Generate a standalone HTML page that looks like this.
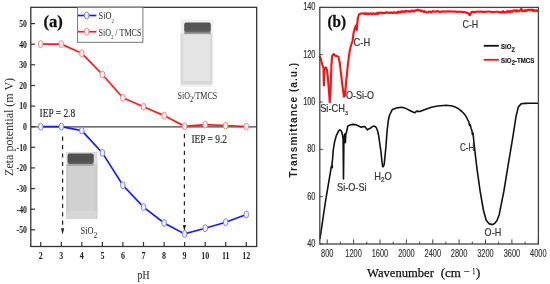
<!DOCTYPE html>
<html><head><meta charset="utf-8"><title>Zeta potential and FTIR</title>
<style>html,body{margin:0;padding:0;background:#fff;} svg{display:block;}</style></head>
<body><svg width="550" height="284" viewBox="0 0 550 284">
<rect width="550" height="284" fill="#fff"/>
<defs><linearGradient id="g1" x1="0" x2="1" y1="0" y2="0"><stop offset="0" stop-color="#d4d4d4"/><stop offset="0.12" stop-color="#e5e5e5"/><stop offset="0.88" stop-color="#e5e5e5"/><stop offset="1" stop-color="#d4d4d4"/></linearGradient></defs>
<rect x="180.6" y="19.5" width="32.599999999999994" height="67.5" fill="#f0f0f0"/>
<rect x="180.6" y="33.0" width="31.599999999999994" height="51.599999999999994" rx="1.5" fill="url(#g1)"/>
<rect x="181.5" y="81.0" width="30.0" height="3.5999999999999943" rx="1.5" fill="#d8d8d8"/>
<rect x="184.2" y="32.0" width="26.600000000000023" height="2.200000000000003" fill="#9c9c9c"/>
<defs><linearGradient id="g1c" x1="0" x2="0" y1="0" y2="1"><stop offset="0" stop-color="#555555"/><stop offset="0.7" stop-color="#555555"/><stop offset="1" stop-color="#6c6c6c"/></linearGradient></defs>
<rect x="184.2" y="22.4" width="26.600000000000023" height="10.0" rx="2" fill="url(#g1c)"/>
<defs><linearGradient id="g2" x1="0" x2="1" y1="0" y2="0"><stop offset="0" stop-color="#c8c8c8"/><stop offset="0.12" stop-color="#d1d1d1"/><stop offset="0.88" stop-color="#d1d1d1"/><stop offset="1" stop-color="#c8c8c8"/></linearGradient></defs>
<rect x="66.3" y="151.9" width="31.200000000000003" height="67.1" fill="#dadada"/>
<rect x="66.3" y="163.5" width="31.0" height="55.30000000000001" rx="1.5" fill="url(#g2)"/>
<rect x="67.0" y="211.0" width="29.799999999999997" height="7.800000000000011" rx="1.5" fill="#d7d7d7"/>
<rect x="67.6" y="163.6" width="26.10000000000001" height="2.200000000000017" fill="#a4a4a4"/>
<defs><linearGradient id="g2c" x1="0" x2="0" y1="0" y2="1"><stop offset="0" stop-color="#505050"/><stop offset="0.7" stop-color="#505050"/><stop offset="1" stop-color="#646464"/></linearGradient></defs>
<rect x="67.6" y="153.4" width="26.10000000000001" height="10.699999999999989" rx="2" fill="url(#g2c)"/>
<line x1="30.8" y1="126.8" x2="256.7" y2="126.8" stroke="#444" stroke-width="1.3"/>
<line x1="62.6" y1="136.6" x2="62.6" y2="228.8" stroke="#222" stroke-width="1.2" stroke-dasharray="4.2,4.2"/>
<path d="M61.0,228.3 L64.2,228.3 L62.6,234.8 Z" fill="#222"/>
<line x1="184.4" y1="134.0" x2="184.4" y2="225.5" stroke="#222" stroke-width="1.2" stroke-dasharray="4.2,4.2"/>
<path d="M182.8,225.0 L186.0,225.0 L184.4,231.5 Z" fill="#222"/>
<polyline points="40.7,44.2 61.3,44.2 81.8,53.3 102.4,74.5 122.9,97.8 143.5,106.7 164.1,115.6 184.6,126.3 205.2,124.6 225.7,125.5 246.3,126.5" fill="none" stroke="#ff1a1a" stroke-width="1.7"/>
<polyline points="40.7,126.7 61.3,126.7 81.8,130.6 102.4,152.9 122.9,185.3 143.5,207.1 164.1,223.0 184.6,233.9 205.2,228.2 225.7,222.2 246.3,214.5" fill="none" stroke="#1a1aff" stroke-width="1.7"/>
<ellipse cx="40.7" cy="44.2" rx="2.3" ry="3.5" fill="#fff4f4" stroke="#ff7a7a" stroke-width="0.95"/>
<ellipse cx="61.3" cy="44.2" rx="2.3" ry="3.5" fill="#fff4f4" stroke="#ff7a7a" stroke-width="0.95"/>
<ellipse cx="81.8" cy="53.3" rx="2.3" ry="3.5" fill="#fff4f4" stroke="#ff7a7a" stroke-width="0.95"/>
<ellipse cx="102.4" cy="74.5" rx="2.3" ry="3.5" fill="#fff4f4" stroke="#ff7a7a" stroke-width="0.95"/>
<ellipse cx="122.9" cy="97.8" rx="2.3" ry="3.5" fill="#fff4f4" stroke="#ff7a7a" stroke-width="0.95"/>
<ellipse cx="143.5" cy="106.7" rx="2.3" ry="3.5" fill="#fff4f4" stroke="#ff7a7a" stroke-width="0.95"/>
<ellipse cx="164.1" cy="115.6" rx="2.3" ry="3.5" fill="#fff4f4" stroke="#ff7a7a" stroke-width="0.95"/>
<ellipse cx="184.6" cy="126.3" rx="2.3" ry="3.5" fill="#fff4f4" stroke="#ff7a7a" stroke-width="0.95"/>
<ellipse cx="205.2" cy="124.6" rx="2.3" ry="3.5" fill="#fff4f4" stroke="#ff7a7a" stroke-width="0.95"/>
<ellipse cx="225.7" cy="125.5" rx="2.3" ry="3.5" fill="#fff4f4" stroke="#ff7a7a" stroke-width="0.95"/>
<ellipse cx="246.3" cy="126.5" rx="2.3" ry="3.5" fill="#fff4f4" stroke="#ff7a7a" stroke-width="0.95"/>
<ellipse cx="40.7" cy="126.7" rx="2.3" ry="3.5" fill="#f2f2ff" stroke="#7a7aff" stroke-width="0.95"/>
<ellipse cx="61.3" cy="126.7" rx="2.3" ry="3.5" fill="#f2f2ff" stroke="#7a7aff" stroke-width="0.95"/>
<ellipse cx="81.8" cy="130.6" rx="2.3" ry="3.5" fill="#f2f2ff" stroke="#7a7aff" stroke-width="0.95"/>
<ellipse cx="102.4" cy="152.9" rx="2.3" ry="3.5" fill="#f2f2ff" stroke="#7a7aff" stroke-width="0.95"/>
<ellipse cx="122.9" cy="185.3" rx="2.3" ry="3.5" fill="#f2f2ff" stroke="#7a7aff" stroke-width="0.95"/>
<ellipse cx="143.5" cy="207.1" rx="2.3" ry="3.5" fill="#f2f2ff" stroke="#7a7aff" stroke-width="0.95"/>
<ellipse cx="164.1" cy="223.0" rx="2.3" ry="3.5" fill="#f2f2ff" stroke="#7a7aff" stroke-width="0.95"/>
<ellipse cx="184.6" cy="233.9" rx="2.3" ry="3.5" fill="#f2f2ff" stroke="#7a7aff" stroke-width="0.95"/>
<ellipse cx="205.2" cy="228.2" rx="2.3" ry="3.5" fill="#f2f2ff" stroke="#7a7aff" stroke-width="0.95"/>
<ellipse cx="225.7" cy="222.2" rx="2.3" ry="3.5" fill="#f2f2ff" stroke="#7a7aff" stroke-width="0.95"/>
<ellipse cx="246.3" cy="214.5" rx="2.3" ry="3.5" fill="#f2f2ff" stroke="#7a7aff" stroke-width="0.95"/>
<rect x="30.8" y="7.3" width="225.89999999999998" height="239.2" fill="none" stroke="#333" stroke-width="1.3"/>
<line x1="30.8" y1="229.8" x2="35.1" y2="229.8" stroke="#333" stroke-width="1.2"/>
<text x="27" y="233.2" font-size="10" font-family="'Liberation Serif', serif" font-weight="bold" fill="#222" text-anchor="end" transform="translate(27 0) scale(0.78 1) translate(-27 0)">-50</text>
<line x1="30.8" y1="209.2" x2="35.1" y2="209.2" stroke="#333" stroke-width="1.2"/>
<text x="27" y="212.6" font-size="10" font-family="'Liberation Serif', serif" font-weight="bold" fill="#222" text-anchor="end" transform="translate(27 0) scale(0.78 1) translate(-27 0)">-40</text>
<line x1="30.8" y1="188.6" x2="35.1" y2="188.6" stroke="#333" stroke-width="1.2"/>
<text x="27" y="192.0" font-size="10" font-family="'Liberation Serif', serif" font-weight="bold" fill="#222" text-anchor="end" transform="translate(27 0) scale(0.78 1) translate(-27 0)">-30</text>
<line x1="30.8" y1="167.9" x2="35.1" y2="167.9" stroke="#333" stroke-width="1.2"/>
<text x="27" y="171.3" font-size="10" font-family="'Liberation Serif', serif" font-weight="bold" fill="#222" text-anchor="end" transform="translate(27 0) scale(0.78 1) translate(-27 0)">-20</text>
<line x1="30.8" y1="147.3" x2="35.1" y2="147.3" stroke="#333" stroke-width="1.2"/>
<text x="27" y="150.7" font-size="10" font-family="'Liberation Serif', serif" font-weight="bold" fill="#222" text-anchor="end" transform="translate(27 0) scale(0.78 1) translate(-27 0)">-10</text>
<line x1="30.8" y1="126.7" x2="35.1" y2="126.7" stroke="#333" stroke-width="1.2"/>
<text x="27" y="130.1" font-size="10" font-family="'Liberation Serif', serif" font-weight="bold" fill="#222" text-anchor="end" transform="translate(27 0) scale(0.78 1) translate(-27 0)">0</text>
<line x1="30.8" y1="106.1" x2="35.1" y2="106.1" stroke="#333" stroke-width="1.2"/>
<text x="27" y="109.5" font-size="10" font-family="'Liberation Serif', serif" font-weight="bold" fill="#222" text-anchor="end" transform="translate(27 0) scale(0.78 1) translate(-27 0)">10</text>
<line x1="30.8" y1="85.5" x2="35.1" y2="85.5" stroke="#333" stroke-width="1.2"/>
<text x="27" y="88.9" font-size="10" font-family="'Liberation Serif', serif" font-weight="bold" fill="#222" text-anchor="end" transform="translate(27 0) scale(0.78 1) translate(-27 0)">20</text>
<line x1="30.8" y1="64.8" x2="35.1" y2="64.8" stroke="#333" stroke-width="1.2"/>
<text x="27" y="68.2" font-size="10" font-family="'Liberation Serif', serif" font-weight="bold" fill="#222" text-anchor="end" transform="translate(27 0) scale(0.78 1) translate(-27 0)">30</text>
<line x1="30.8" y1="44.2" x2="35.1" y2="44.2" stroke="#333" stroke-width="1.2"/>
<text x="27" y="47.6" font-size="10" font-family="'Liberation Serif', serif" font-weight="bold" fill="#222" text-anchor="end" transform="translate(27 0) scale(0.78 1) translate(-27 0)">40</text>
<line x1="30.8" y1="23.6" x2="35.1" y2="23.6" stroke="#333" stroke-width="1.2"/>
<text x="27" y="27.0" font-size="10" font-family="'Liberation Serif', serif" font-weight="bold" fill="#222" text-anchor="end" transform="translate(27 0) scale(0.78 1) translate(-27 0)">50</text>
<line x1="40.7" y1="246.5" x2="40.7" y2="242.0" stroke="#333" stroke-width="1.2"/>
<text x="40.7" y="259.3" font-size="10" font-family="'Liberation Serif', serif" font-weight="bold" fill="#222" text-anchor="middle" transform="translate(40.7 0) scale(0.8 1) translate(-40.7 0)">2</text>
<line x1="61.3" y1="246.5" x2="61.3" y2="242.0" stroke="#333" stroke-width="1.2"/>
<text x="61.3" y="259.3" font-size="10" font-family="'Liberation Serif', serif" font-weight="bold" fill="#222" text-anchor="middle" transform="translate(61.3 0) scale(0.8 1) translate(-61.3 0)">3</text>
<line x1="81.8" y1="246.5" x2="81.8" y2="242.0" stroke="#333" stroke-width="1.2"/>
<text x="81.8" y="259.3" font-size="10" font-family="'Liberation Serif', serif" font-weight="bold" fill="#222" text-anchor="middle" transform="translate(81.8 0) scale(0.8 1) translate(-81.8 0)">4</text>
<line x1="102.4" y1="246.5" x2="102.4" y2="242.0" stroke="#333" stroke-width="1.2"/>
<text x="102.4" y="259.3" font-size="10" font-family="'Liberation Serif', serif" font-weight="bold" fill="#222" text-anchor="middle" transform="translate(102.4 0) scale(0.8 1) translate(-102.4 0)">5</text>
<line x1="122.9" y1="246.5" x2="122.9" y2="242.0" stroke="#333" stroke-width="1.2"/>
<text x="122.9" y="259.3" font-size="10" font-family="'Liberation Serif', serif" font-weight="bold" fill="#222" text-anchor="middle" transform="translate(122.9 0) scale(0.8 1) translate(-122.9 0)">6</text>
<line x1="143.5" y1="246.5" x2="143.5" y2="242.0" stroke="#333" stroke-width="1.2"/>
<text x="143.5" y="259.3" font-size="10" font-family="'Liberation Serif', serif" font-weight="bold" fill="#222" text-anchor="middle" transform="translate(143.5 0) scale(0.8 1) translate(-143.5 0)">7</text>
<line x1="164.1" y1="246.5" x2="164.1" y2="242.0" stroke="#333" stroke-width="1.2"/>
<text x="164.1" y="259.3" font-size="10" font-family="'Liberation Serif', serif" font-weight="bold" fill="#222" text-anchor="middle" transform="translate(164.1 0) scale(0.8 1) translate(-164.1 0)">8</text>
<line x1="184.6" y1="246.5" x2="184.6" y2="242.0" stroke="#333" stroke-width="1.2"/>
<text x="184.6" y="259.3" font-size="10" font-family="'Liberation Serif', serif" font-weight="bold" fill="#222" text-anchor="middle" transform="translate(184.6 0) scale(0.8 1) translate(-184.6 0)">9</text>
<line x1="205.2" y1="246.5" x2="205.2" y2="242.0" stroke="#333" stroke-width="1.2"/>
<text x="205.2" y="259.3" font-size="10" font-family="'Liberation Serif', serif" font-weight="bold" fill="#222" text-anchor="middle" transform="translate(205.2 0) scale(0.8 1) translate(-205.2 0)">10</text>
<line x1="225.7" y1="246.5" x2="225.7" y2="242.0" stroke="#333" stroke-width="1.2"/>
<text x="225.7" y="259.3" font-size="10" font-family="'Liberation Serif', serif" font-weight="bold" fill="#222" text-anchor="middle" transform="translate(225.7 0) scale(0.8 1) translate(-225.7 0)">11</text>
<line x1="246.3" y1="246.5" x2="246.3" y2="242.0" stroke="#333" stroke-width="1.2"/>
<text x="246.3" y="259.3" font-size="10" font-family="'Liberation Serif', serif" font-weight="bold" fill="#222" text-anchor="middle" transform="translate(246.3 0) scale(0.8 1) translate(-246.3 0)">12</text>
<rect x="77.6" y="7.3" width="65.3" height="35.0" fill="#fff" stroke="#777" stroke-width="1"/>
<line x1="78" y1="15.5" x2="96.4" y2="15.5" stroke="#1a1aff" stroke-width="1.7"/>
<ellipse cx="86.7" cy="15.5" rx="2.3" ry="3.5" fill="#f2f2ff" stroke="#7a7aff" stroke-width="0.95"/>
<line x1="78" y1="31.7" x2="96.4" y2="31.7" stroke="#ff1a1a" stroke-width="1.7"/>
<ellipse cx="86.7" cy="31.7" rx="2.3" ry="3.5" fill="#fff4f4" stroke="#ff7a7a" stroke-width="0.95"/>
<text x="98.6" y="19.3" font-size="9.9" font-family="'Liberation Serif', serif" fill="#2a2a2a" textLength="15.3" lengthAdjust="spacingAndGlyphs">SiO<tspan font-size="5.6" dy="3.6">2</tspan></text>
<text x="98.6" y="35.6" font-size="10.2" font-family="'Liberation Serif', serif" fill="#2a2a2a" textLength="42.8" lengthAdjust="spacingAndGlyphs">SiO<tspan font-size="5.6" dy="3.6">2</tspan><tspan dy="-3.6"> / TMCS</tspan></text>
<text x="43.4" y="26.8" font-size="17" font-family="'Liberation Serif', serif" font-weight="bold" fill="#111" text-anchor="start" textLength="19.4" lengthAdjust="spacingAndGlyphs" stroke="#111" stroke-width="0.3">(a)</text>
<text x="39.6" y="116.8" font-size="12.6" font-family="'Liberation Serif', serif" font-weight="normal" fill="#2a2a2a" text-anchor="start" textLength="35.6" lengthAdjust="spacingAndGlyphs" stroke="#2a2a2a" stroke-width="0.2">IEP = 2.8</text>
<text x="191.4" y="143.3" font-size="12.6" font-family="'Liberation Serif', serif" font-weight="normal" fill="#2a2a2a" text-anchor="start" textLength="35.7" lengthAdjust="spacingAndGlyphs" stroke="#2a2a2a" stroke-width="0.2">IEP = 9.2</text>
<text x="177.6" y="98.7" font-size="10.3" font-family="'Liberation Serif', serif" fill="#2a2a2a" textLength="39.6" lengthAdjust="spacingAndGlyphs">SiO<tspan font-size="8.2" dy="3">2</tspan><tspan dy="-3">/TMCS</tspan></text>
<text x="80.6" y="234.0" font-size="9.6" font-family="'Liberation Serif', serif" fill="#2a2a2a" textLength="16.8" lengthAdjust="spacingAndGlyphs">SiO<tspan font-size="8.8" dy="4.1">2</tspan></text>
<text x="137.6" y="278.9" font-size="13.1" font-family="'Liberation Serif', serif" font-weight="normal" fill="#333" text-anchor="start" textLength="11.9" lengthAdjust="spacingAndGlyphs" stroke="#333" stroke-width="0.2">pH</text>
<text x="0" y="0" font-size="12.3" font-family="'Liberation Serif', serif" fill="#333" textLength="98" lengthAdjust="spacingAndGlyphs" transform="translate(12.9 175.9) rotate(-90)">Zeta potential (m V)</text>
<polyline points="320.0,239.0 320.4,236.0 325.4,202.0 331.0,168.6 331.4,166.0 332.4,167.6 332.0,163.6 332.6,158.8 333.2,150.4 334.6,141.9 336.3,135.6 338.4,131.3 339.8,129.9 340.8,130.4 342.0,132.7 343.1,139.1 343.5,179.0 343.9,139.0 344.6,134.0 345.3,142.6 345.9,134.0 346.9,130.6 347.7,126.1 350.0,125.0 352.6,124.4 355.0,124.6 357.6,125.4 359.5,126.5 361.3,127.3 363.0,126.5 365.0,126.8 366.3,128.5 367.4,129.8 368.5,129.0 369.9,128.6 371.8,127.0 373.6,126.1 375.0,126.5 376.1,127.3 377.3,130.0 378.5,134.7 381.0,152.0 382.0,162.0 382.7,166.8 383.4,166.5 384.2,164.3 385.9,147.0 387.2,129.8 388.4,120.0 389.6,115.0 392.4,109.4 396.6,107.9 401.9,107.3 406.1,108.6 410.3,110.7 414.6,112.8 416.7,111.1 419.8,111.5 425.1,109.4 431.4,107.3 437.8,106.0 446.2,105.2 452.5,106.0 455.0,106.9 458.5,108.8 461.9,111.5 464.5,114.2 466.5,117.4 468.8,122.0 469.6,125.5 470.3,124.8 471.1,128.4 472.0,131.0 472.4,134.5 473.0,133.0 473.6,139.0 474.3,145.9 477.0,168.8 480.2,191.7 483.4,210.0 486.2,220.2 489.4,223.9 492.5,224.6 494.6,223.5 497.0,220.5 499.2,214.7 503.8,191.7 508.3,164.2 512.9,136.7 516.1,116.0 518.4,106.9 521.2,103.7 525.0,103.4 530.0,103.2 538.2,103.3" fill="none" stroke="#111" stroke-width="1.6" stroke-linejoin="round"/>
<polyline points="319.6,55.9 320.8,58.9 322.3,64.8 323.5,67.8 323.9,85.5 324.5,68.7 325.9,67.4 326.9,69.7 327.9,77.6 328.8,89.4 329.8,102.3 330.6,89.4 331.4,65.8 332.2,55.9 333.8,54.0 335.4,55.9 336.5,55.8 338.5,56.9 339.8,63.2 341.3,75.9 342.8,88.6 344.0,96.6 344.9,96.0 346.1,82.3 347.6,67.5 349.1,54.8 350.8,46.3 352.5,41.0 353.7,32.5 355.2,27.2 356.3,25.0 356.8,30.0 357.2,24.0 358.0,17.7 359.0,14.5 361.1,13.5 363.0,13.3 363.7,13.2 364.4,14.0 365.1,13.2 365.8,14.0 366.5,13.8 367.2,13.4 367.9,14.2 368.6,13.5 369.3,14.0 370.0,13.4 370.7,13.3 371.4,13.8 372.1,14.3 372.8,13.2 373.5,13.3 374.2,13.8 374.9,14.2 375.6,13.6 376.3,13.3 377.0,14.1 377.7,12.6 378.4,13.8 379.1,12.9 379.8,12.6 380.5,12.5 381.2,12.8 381.9,13.5 382.6,12.5 383.3,13.1 384.0,13.2 384.7,12.8 385.4,13.0 386.1,12.3 386.8,12.2 387.5,12.4 388.2,13.1 388.9,12.7 389.6,12.5 390.3,12.9 391.0,12.7 391.7,12.4 392.4,13.1 393.1,12.9 393.8,12.2 394.5,12.6 395.2,12.5 395.9,13.0 396.6,12.7 397.3,12.0 398.0,13.0 398.7,11.7 399.4,12.1 400.1,12.6 400.8,11.5 401.5,11.9 402.2,11.1 402.9,11.9 403.6,11.9 404.3,11.4 405.0,11.8 405.7,10.9 406.4,11.5 407.1,11.3 407.8,11.3 408.5,11.1 409.2,11.7 409.9,11.9 410.6,11.1 411.3,11.3 412.0,10.3 412.7,11.2 413.4,11.1 414.1,11.5 414.8,11.1 415.5,10.2 416.2,10.2 416.9,10.5 417.6,9.6 418.3,10.4 419.0,10.1 419.7,10.2 420.4,10.2 421.1,11.4 421.8,10.6 422.5,11.0 423.2,11.3 423.9,12.2 424.6,11.2 425.3,11.8 426.0,12.0 426.7,12.5 427.4,12.3 428.1,12.4 428.8,11.5 429.5,11.7 430.2,11.6 430.9,12.4 431.6,12.5 432.3,11.3 433.0,11.3 433.7,11.4 434.4,11.3 435.1,11.7 435.8,11.8 436.5,11.3 437.2,10.9 437.9,11.5 438.6,11.4 439.3,11.7 440.0,12.3 440.7,11.7 441.4,11.6 442.1,11.6 442.8,11.6 443.5,11.2 444.2,11.7 444.9,11.6 445.6,11.6 446.3,11.6 447.0,11.4 447.7,11.4 448.4,11.3 449.1,11.6 449.8,11.3 450.5,11.4 451.2,11.5 451.9,11.5 452.6,11.6 453.3,11.5 454.0,11.5 454.7,11.6 455.4,11.6 456.1,11.7 456.8,11.5 457.5,12.1 458.2,11.9 458.9,11.6 459.6,11.7 460.3,11.8 461.0,11.8 461.7,11.6 462.4,12.1 463.1,12.2 463.8,11.9 464.5,12.0 465.2,12.2 465.9,12.5 466.6,12.9 467.3,12.7 468.0,13.1 468.7,13.8 469.4,15.0 470.1,15.1 470.8,13.4 471.5,12.1 472.2,12.0 472.9,11.8 473.6,11.9 474.3,12.1 475.0,12.0 475.7,11.9 476.4,11.6 477.1,11.6 477.8,11.5 478.5,11.8 479.2,11.7 479.9,11.8 480.6,11.5 481.3,11.5 482.0,11.8 482.7,11.9 483.4,11.9 484.1,11.9 484.8,11.9 485.5,11.9 486.2,11.6 486.9,11.7 487.6,11.7 488.3,11.5 489.0,11.5 489.7,11.7 490.4,11.7 491.1,11.9 491.8,12.1 492.5,11.8 493.2,12.1 493.9,12.2 494.6,12.2 495.3,11.8 496.0,11.8 496.7,11.8 497.4,11.8 498.1,11.8 498.8,12.1 499.5,12.2 500.2,12.6 500.9,11.9 501.6,12.2 502.3,12.4 503.0,11.1 503.7,12.1 504.4,12.5 505.1,12.2 505.8,12.1 506.5,11.6 507.2,11.0 507.9,12.0 508.6,11.1 509.3,11.9 510.0,12.2 510.7,11.1 511.4,11.0 512.1,12.0 512.8,11.5 513.5,10.4 514.2,10.3 514.9,10.3 515.6,11.6 516.3,11.4 517.0,10.1 517.7,11.3 518.4,11.5 519.1,10.9 519.8,10.3 520.5,10.6 521.2,8.9 521.9,9.6 522.6,11.3 523.3,10.7 524.0,10.4 524.7,11.2 525.4,10.2 526.1,11.0 526.8,10.9 527.5,9.8 528.2,9.8 528.9,9.9 529.6,9.7 530.3,10.4 531.0,9.8 531.7,10.1 532.4,9.6 533.1,11.0 533.8,10.1 534.5,10.3 535.2,10.5 535.9,11.1 536.6,10.3 537.3,11.2 538.0,10.5 538.4,10.5" fill="none" stroke="#ff1010" stroke-width="2.1" stroke-linejoin="round"/>
<rect x="319.8" y="7.4" width="218.59999999999997" height="236.6" fill="none" stroke="#444" stroke-width="1.3"/>
<line x1="319.8" y1="244.0" x2="322.8" y2="244.0" stroke="#444" stroke-width="1"/>
<text x="315.5" y="247.0" font-size="10.6" font-family="'Liberation Sans', sans-serif" font-weight="normal" fill="#333" text-anchor="end" stroke="#333" stroke-width="0.2" transform="translate(315.5 0) scale(0.70 1) translate(-315.5 0)">40</text>
<line x1="319.8" y1="196.7" x2="322.8" y2="196.7" stroke="#444" stroke-width="1"/>
<text x="315.5" y="199.7" font-size="10.6" font-family="'Liberation Sans', sans-serif" font-weight="normal" fill="#333" text-anchor="end" stroke="#333" stroke-width="0.2" transform="translate(315.5 0) scale(0.70 1) translate(-315.5 0)">60</text>
<line x1="319.8" y1="149.4" x2="322.8" y2="149.4" stroke="#444" stroke-width="1"/>
<text x="315.5" y="152.4" font-size="10.6" font-family="'Liberation Sans', sans-serif" font-weight="normal" fill="#333" text-anchor="end" stroke="#333" stroke-width="0.2" transform="translate(315.5 0) scale(0.70 1) translate(-315.5 0)">80</text>
<line x1="319.8" y1="102.0" x2="322.8" y2="102.0" stroke="#444" stroke-width="1"/>
<text x="315.5" y="105.0" font-size="10.6" font-family="'Liberation Sans', sans-serif" font-weight="normal" fill="#333" text-anchor="end" stroke="#333" stroke-width="0.2" transform="translate(315.5 0) scale(0.70 1) translate(-315.5 0)">100</text>
<line x1="319.8" y1="54.7" x2="322.8" y2="54.7" stroke="#444" stroke-width="1"/>
<text x="315.5" y="57.7" font-size="10.6" font-family="'Liberation Sans', sans-serif" font-weight="normal" fill="#333" text-anchor="end" stroke="#333" stroke-width="0.2" transform="translate(315.5 0) scale(0.70 1) translate(-315.5 0)">120</text>
<line x1="319.8" y1="7.4" x2="322.8" y2="7.4" stroke="#444" stroke-width="1"/>
<text x="315.5" y="10.4" font-size="10.6" font-family="'Liberation Sans', sans-serif" font-weight="normal" fill="#333" text-anchor="end" stroke="#333" stroke-width="0.2" transform="translate(315.5 0) scale(0.70 1) translate(-315.5 0)">140</text>
<line x1="327.2" y1="244.0" x2="327.2" y2="239.4" stroke="#444" stroke-width="1"/>
<text x="327.2" y="256.6" font-size="10.2" font-family="'Liberation Sans', sans-serif" font-weight="normal" fill="#333" text-anchor="middle" stroke="#333" stroke-width="0.15" transform="translate(327.2 0) scale(0.73 1) translate(-327.2 0)">800</text>
<line x1="340.4" y1="244.0" x2="340.4" y2="241.7" stroke="#444" stroke-width="1"/>
<line x1="353.6" y1="244.0" x2="353.6" y2="239.4" stroke="#444" stroke-width="1"/>
<text x="353.6" y="256.6" font-size="10.2" font-family="'Liberation Sans', sans-serif" font-weight="normal" fill="#333" text-anchor="middle" stroke="#333" stroke-width="0.15" transform="translate(353.6 0) scale(0.73 1) translate(-353.6 0)">1200</text>
<line x1="366.8" y1="244.0" x2="366.8" y2="241.7" stroke="#444" stroke-width="1"/>
<line x1="380.0" y1="244.0" x2="380.0" y2="239.4" stroke="#444" stroke-width="1"/>
<text x="380.0" y="256.6" font-size="10.2" font-family="'Liberation Sans', sans-serif" font-weight="normal" fill="#333" text-anchor="middle" stroke="#333" stroke-width="0.15" transform="translate(380.0 0) scale(0.73 1) translate(-380.0 0)">1600</text>
<line x1="393.2" y1="244.0" x2="393.2" y2="241.7" stroke="#444" stroke-width="1"/>
<line x1="406.4" y1="244.0" x2="406.4" y2="239.4" stroke="#444" stroke-width="1"/>
<text x="406.4" y="256.6" font-size="10.2" font-family="'Liberation Sans', sans-serif" font-weight="normal" fill="#333" text-anchor="middle" stroke="#333" stroke-width="0.15" transform="translate(406.4 0) scale(0.73 1) translate(-406.4 0)">2000</text>
<line x1="419.6" y1="244.0" x2="419.6" y2="241.7" stroke="#444" stroke-width="1"/>
<line x1="432.8" y1="244.0" x2="432.8" y2="239.4" stroke="#444" stroke-width="1"/>
<text x="432.8" y="256.6" font-size="10.2" font-family="'Liberation Sans', sans-serif" font-weight="normal" fill="#333" text-anchor="middle" stroke="#333" stroke-width="0.15" transform="translate(432.8 0) scale(0.73 1) translate(-432.8 0)">2400</text>
<line x1="445.9" y1="244.0" x2="445.9" y2="241.7" stroke="#444" stroke-width="1"/>
<line x1="459.1" y1="244.0" x2="459.1" y2="239.4" stroke="#444" stroke-width="1"/>
<text x="459.1" y="256.6" font-size="10.2" font-family="'Liberation Sans', sans-serif" font-weight="normal" fill="#333" text-anchor="middle" stroke="#333" stroke-width="0.15" transform="translate(459.1 0) scale(0.73 1) translate(-459.1 0)">2800</text>
<line x1="472.3" y1="244.0" x2="472.3" y2="241.7" stroke="#444" stroke-width="1"/>
<line x1="485.5" y1="244.0" x2="485.5" y2="239.4" stroke="#444" stroke-width="1"/>
<text x="485.5" y="256.6" font-size="10.2" font-family="'Liberation Sans', sans-serif" font-weight="normal" fill="#333" text-anchor="middle" stroke="#333" stroke-width="0.15" transform="translate(485.5 0) scale(0.73 1) translate(-485.5 0)">3200</text>
<line x1="498.7" y1="244.0" x2="498.7" y2="241.7" stroke="#444" stroke-width="1"/>
<line x1="511.9" y1="244.0" x2="511.9" y2="239.4" stroke="#444" stroke-width="1"/>
<text x="511.9" y="256.6" font-size="10.2" font-family="'Liberation Sans', sans-serif" font-weight="normal" fill="#333" text-anchor="middle" stroke="#333" stroke-width="0.15" transform="translate(511.9 0) scale(0.73 1) translate(-511.9 0)">3600</text>
<line x1="525.1" y1="244.0" x2="525.1" y2="241.7" stroke="#444" stroke-width="1"/>
<line x1="538.3" y1="244.0" x2="538.3" y2="239.4" stroke="#444" stroke-width="1"/>
<text x="538.3" y="256.6" font-size="10.2" font-family="'Liberation Sans', sans-serif" font-weight="normal" fill="#333" text-anchor="middle" stroke="#333" stroke-width="0.15" transform="translate(538.3 0) scale(0.73 1) translate(-538.3 0)">4000</text>
<text x="327.5" y="27.3" font-size="16.8" font-family="'Liberation Serif', serif" font-weight="bold" fill="#111" text-anchor="start" textLength="18.6" lengthAdjust="spacingAndGlyphs" stroke="#111" stroke-width="0.3">(b)</text>
<line x1="483.7" y1="45.8" x2="498.8" y2="45.8" stroke="#111" stroke-width="1.8"/>
<line x1="483.7" y1="59.8" x2="498.8" y2="59.8" stroke="#ff1010" stroke-width="1.8"/>
<text x="501.1" y="48.7" font-size="7.2" font-weight="bold" font-family="'Liberation Sans', sans-serif" fill="#222" stroke="#222" stroke-width="0.2" textLength="13.6" lengthAdjust="spacingAndGlyphs">SiO<tspan font-size="7" dy="2.9">2</tspan></text>
<text x="501.1" y="62.9" font-size="7.2" font-weight="bold" font-family="'Liberation Sans', sans-serif" fill="#222" stroke="#222" stroke-width="0.2" textLength="33.2" lengthAdjust="spacingAndGlyphs">SiO<tspan font-size="7" dy="2.3">2</tspan><tspan dy="-2.3">-TMCS</tspan></text>
<text x="462.4" y="28.2" font-size="10.3" font-family="'Liberation Sans', sans-serif" font-weight="normal" fill="#333" text-anchor="start" textLength="15.8" lengthAdjust="spacingAndGlyphs" stroke="#333" stroke-width="0.2">C-H</text>
<text x="353.6" y="46" font-size="10.3" font-family="'Liberation Sans', sans-serif" font-weight="normal" fill="#333" text-anchor="start" textLength="16.6" lengthAdjust="spacingAndGlyphs" stroke="#333" stroke-width="0.2">C-H</text>
<text x="346.1" y="99.1" font-size="10.6" font-family="'Liberation Sans', sans-serif" font-weight="normal" fill="#333" text-anchor="start" textLength="28.0" lengthAdjust="spacingAndGlyphs" stroke="#333" stroke-width="0.2">O-Si-O</text>
<text x="320.2" y="112.3" font-size="10.4" font-family="'Liberation Sans', sans-serif" fill="#333" stroke="#333" stroke-width="0.2" textLength="27.8" lengthAdjust="spacingAndGlyphs">Si-CH<tspan font-size="6.2" dy="2.6">3</tspan></text>
<text x="337.0" y="190.5" font-size="10.4" font-family="'Liberation Sans', sans-serif" font-weight="normal" fill="#333" text-anchor="start" textLength="29.6" lengthAdjust="spacingAndGlyphs" stroke="#333" stroke-width="0.2">Si-O-Si</text>
<text x="374.2" y="179.5" font-size="10.3" font-family="'Liberation Sans', sans-serif" fill="#333" stroke="#333" stroke-width="0.2" textLength="17.5" lengthAdjust="spacingAndGlyphs">H<tspan font-size="7" dy="2.5">2</tspan><tspan dy="-2.5">O</tspan></text>
<text x="460" y="150.5" font-size="10.3" font-family="'Liberation Sans', sans-serif" font-weight="normal" fill="#333" text-anchor="start" textLength="14.4" lengthAdjust="spacingAndGlyphs" stroke="#333" stroke-width="0.2">C-H</text>
<text x="484.6" y="236.4" font-size="10.3" font-family="'Liberation Sans', sans-serif" font-weight="normal" fill="#333" text-anchor="start" textLength="16.6" lengthAdjust="spacingAndGlyphs" stroke="#333" stroke-width="0.2">O-H</text>
<text x="367.0" y="277.3" font-size="13.2" font-family="'Liberation Serif', serif" fill="#111" stroke="#111" stroke-width="0.25" lengthAdjust="spacingAndGlyphs" textLength="66.9">Wavenumber</text>
<text x="440.7" y="277.3" font-size="13.2" font-family="'Liberation Serif', serif" fill="#111" stroke="#111" stroke-width="0.25" lengthAdjust="spacingAndGlyphs" textLength="20.3">(cm</text>
<text x="464.0" y="273.6" font-size="8.2" font-family="'Liberation Serif', serif" fill="#111" stroke="#111" stroke-width="0.25" lengthAdjust="spacingAndGlyphs" textLength="5.9">&#8722;</text>
<text x="472.5" y="273.6" font-size="8.2" font-family="'Liberation Serif', serif" fill="#111" stroke="#111" stroke-width="0.25" lengthAdjust="spacingAndGlyphs" textLength="2.6">1</text>
<text x="476.0" y="277.3" font-size="13.2" font-family="'Liberation Serif', serif" fill="#111" stroke="#111" stroke-width="0.25" lengthAdjust="spacingAndGlyphs" textLength="4.3">)</text>
<text x="0" y="0" font-size="11.8" font-weight="bold" font-family="'Liberation Sans', sans-serif" fill="#222" textLength="133.5" lengthAdjust="spacing" transform="translate(296.6 177.6) scale(1 0.86) rotate(-90)">Transmittance (a.u.)</text>
</svg></body></html>
